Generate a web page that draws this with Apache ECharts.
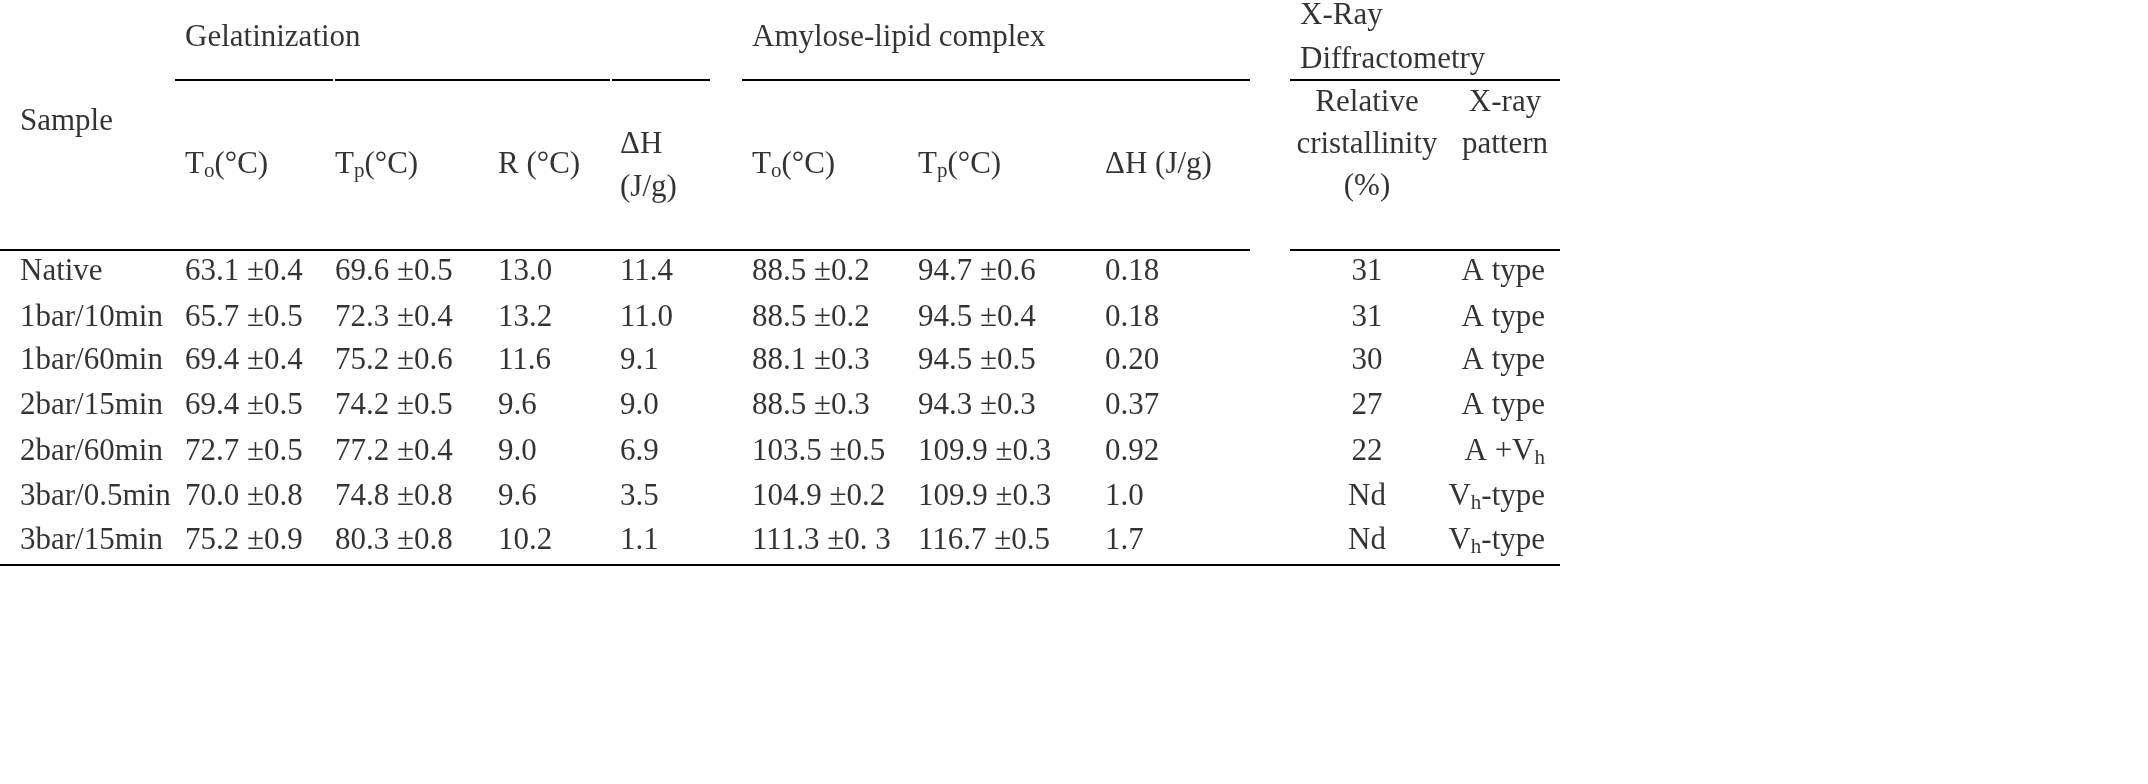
<!DOCTYPE html><html><head><meta charset="utf-8"><script src="https://cdn.jsdelivr.net/npm/echarts@6/dist/echarts.min.js"></script>
<style>html,body{margin:0;background:#fff}#c{width:2148px;height:784px}</style></head><body><div id="c"></div><script>
const samples=["Native","1bar/10min","1bar/60min","2bar/15min","2bar/60min","3bar/0.5min","3bar/15min"];
const gelTo=["63.1 ±0.4","65.7 ±0.5","69.4 ±0.4","69.4 ±0.5","72.7 ±0.5","70.0 ±0.8","75.2 ±0.9"];
const gelTp=["69.6 ±0.5","72.3 ±0.4","75.2 ±0.6","74.2 ±0.5","77.2 ±0.4","74.8 ±0.8","80.3 ±0.8"];
const gelR=["13.0","13.2","11.6","9.6","9.0","9.6","10.2"];
const gelDH=["11.4","11.0","9.1","9.0","6.9","3.5","1.1"];
const alcTo=["88.5 ±0.2","88.5 ±0.2","88.1 ±0.3","88.5 ±0.3","103.5 ±0.5","104.9 ±0.2","111.3 ±0. 3"];
const alcTp=["94.7 ±0.6","94.5 ±0.4","94.5 ±0.5","94.3 ±0.3","109.9 ±0.3","109.9 ±0.3","116.7 ±0.5"];
const alcDH=["0.18","0.18","0.20","0.37","0.92","1.0","1.7"];
const cryst=["31","31","30","27","22","Nd","Nd"];
const pattern=["A type","A type","A type","A type","A +V{s|h}","V{s|h}-type","V{s|h}-type"];

// layout
const rowY=[272,318,361,406,452,497,541];
const colX=[20,185,335,498,620,752,918,1105];
const cols=[samples,gelTo,gelTp,gelR,gelDH,alcTo,alcTp,alcDH];
const pts=[];
cols.forEach((c,i)=>c.forEach((t,j)=>pts.push({value:[colX[i],rowY[j],t],label:{align:'left'}})));
cryst.forEach((t,j)=>pts.push({value:[1367,rowY[j],t],label:{align:'center'}}));
pattern.forEach((t,j)=>pts.push({value:[1545,rowY[j],t],label:{align:'right'}}));
const hdr=[[185,38,"Gelatinization",'left'],[752,38,"Amylose-lipid complex",'left'],[1300,16,"X-Ray",'left'],[1300,60,"Diffractometry",'left'],
[20,122,"Sample",'left'],[185,165,"T{s|o}(°C)",'left'],[335,165,"T{s|p}(°C)",'left'],[498,165,"R (°C)",'left'],[620,145,"ΔH",'left'],[620,188,"(J/g)",'left'],
[752,165,"T{s|o}(°C)",'left'],[918,165,"T{s|p}(°C)",'left'],[1105,165,"ΔH (J/g)",'left'],
[1367,103,"Relative",'center'],[1367,145,"cristallinity",'center'],[1367,187,"(%)",'center'],[1505,103,"X-ray",'center'],[1505,145,"pattern",'center']];
hdr.forEach(h=>pts.push({value:[h[0],h[1],h[2]],label:{align:h[3]}}));
const segs=[[175,80,333,80],[335,80,610,80],[612,80,710,80],[742,80,1250,80],[1290,80,1560,80],[0,250,1250,250],[1290,250,1560,250],[0,565,1560,565]];
const ch=echarts.init(document.getElementById('c'));
ch.setOption({animation:false,backgroundColor:'#fff',
grid:{left:0,right:0,top:0,bottom:0},
xAxis:{type:'value',min:0,max:2148,show:false},
yAxis:{type:'value',min:0,max:784,inverse:true,show:false},
series:[{type:'scatter',symbolSize:0,data:pts,
label:{show:true,position:'inside',verticalAlign:'middle',color:'#000',fontFamily:'Liberation Serif',fontSize:31,
formatter:p=>p.value[2],rich:{s:{fontSize:21,verticalAlign:'bottom',padding:[12,0,0,0],fontFamily:'Liberation Serif',color:'#000'}}}},
{type:'lines',coordinateSystem:'cartesian2d',polyline:false,lineStyle:{color:'#000',width:2,opacity:1},
data:segs.map(s=>({coords:[[s[0],s[1]],[s[2],s[3]]]}))}]});
</script></body></html>
